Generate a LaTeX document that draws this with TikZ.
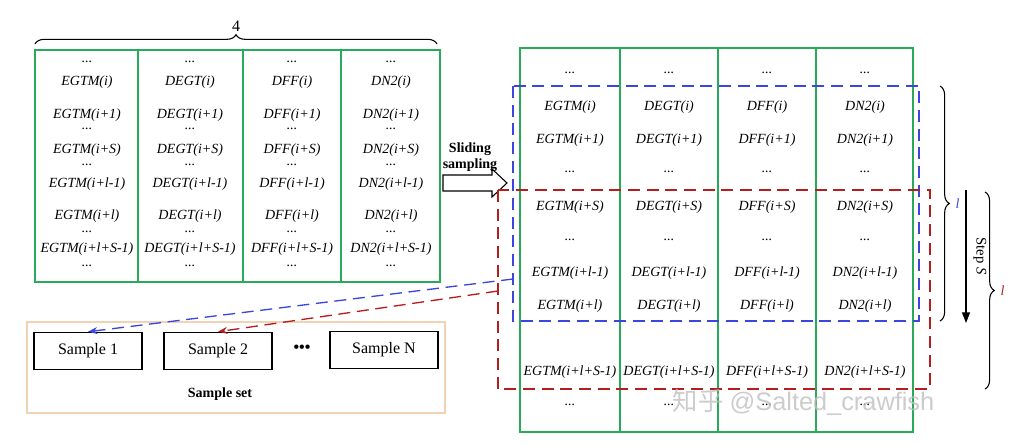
\documentclass[tikz,border=0pt]{standalone}
\usepackage{fontspec}
\setmainfont{Liberation Serif}
\newfontfamily\cjk{Noto Sans CJK SC}
\newfontfamily\wsans{Liberation Sans}
\usetikzlibrary{decorations.pathreplacing,arrows.meta}
\definecolor{tgreen}{RGB}{40,170,90}
\definecolor{tblue}{RGB}{60,70,220}
\definecolor{tred}{RGB}{180,30,30}
\definecolor{torange}{RGB}{240,210,180}
\begin{document}
\begin{tikzpicture}[x=0.75pt,y=-0.75pt,
  cell/.style={font=\itshape\fontsize{10.5}{12}\selectfont,inner sep=0pt},
  grid/.style={draw=tgreen,line width=1pt},
  samp/.style={draw,line width=0.9pt,minimum width=81pt,minimum height=28pt,font=\fontsize{12}{14}\selectfont},
  br/.style={decorate,decoration={brace,amplitude=7pt},line width=0.8pt}]
\useasboundingbox (0,0) rectangle (1033,445);
% left table
\draw[grid] (35,50) rectangle (440,282);
\foreach \x in {138,243,341} \draw[grid] (\x,50) -- (\x,282);
\draw[br] (35,44) -- (437,44) node[midway,above=6pt,font=\fontsize{12}{14}\selectfont] (four) {4};
\foreach \n/\cx in {EGTM/87,DEGT/190,DFF/292,DN2/391}{
  \foreach \y in {62,129,165,232,266} \node[cell] at (\cx,\y) {...};
  \node[cell] at (\cx,82) {\n(i)};
  \node[cell] at (\cx,115) {\n(i+1)};
  \node[cell] at (\cx,150) {\n(i+S)};
  \node[cell] at (\cx,184) {\n(i+l-1)};
  \node[cell] at (\cx,216) {\n(i+l)};
  \node[cell] at (\cx,249) {\n(i+l+S-1)};
}
% sliding arrow
\draw[line width=0.8pt,fill=white] (443,175) -- (492,175) -- (492,169) -- (507,183) -- (492,197) -- (492,191) -- (443,191) -- cycle;
\node[font=\bfseries\fontsize{10.5}{12}\selectfont,align=center] (sl) at (470,157) {Sliding\\sampling};
% right table
\draw[grid] (520,48) rectangle (913,432);
\foreach \x in {620,718,816} \draw[grid] (\x,48) -- (\x,432);
\foreach \n/\cx in {EGTM/570,DEGT/669,DFF/767,DN2/865}{
  \foreach \y in {73,172,240,405} \node[cell] at (\cx,\y) {...};
  \node[cell] at (\cx,107) {\n(i)};
  \node[cell] at (\cx,140) {\n(i+1)};
  \node[cell] at (\cx,207) {\n(i+S)};
  \node[cell] at (\cx,273) {\n(i+l-1)};
  \node[cell] at (\cx,306) {\n(i+l)};
  \node[cell] at (\cx,372) {\n(i+l+S-1)};
}
\draw[tblue,dash pattern=on 9pt off 5pt,line width=1pt] (513,86) rectangle (919,321);
\draw[tred,dash pattern=on 9pt off 5pt,line width=1pt] (498,190) rectangle (930,389);
\coordinate (bs) at (513,279);
\coordinate (rs) at (498,291);
% braces
\draw[br] (940,86) -- (940,321) node[midway,right=8pt,tblue,font=\itshape\fontsize{10.5}{12}\selectfont] (l1) {l};
\draw[br] (985,192) -- (985,389) node[midway,right=8pt,tred,font=\itshape\fontsize{10.5}{12}\selectfont] (l2) {l};
\coordinate (st) at (966,190); \coordinate (se) at (966,323);
\draw[-{Triangle[length=8pt,width=6pt]},line width=1pt] (st) -- (se);
\node[rotate=-90,font=\fontsize{11}{13}\selectfont] (ss) at (980,256) {Step \textit{S}};
% sample set
\draw[torange,line width=1pt] (27,322) rectangle (445,413);
\node[samp] (s1) at (88,351) {Sample 1};
\node[samp] (s2) at (218,351) {Sample 2};
\node[font=\bfseries\fontsize{12}{14}\selectfont] (dd) at (302,349) {•••};
\node[samp] (sn) at (384,350) {Sample N};
\node[font=\bfseries\fontsize{10.5}{12}\selectfont] (set) at (220,394) {Sample set};
\draw[tblue,dash pattern=on 9pt off 5pt,line width=1pt,-{Stealth[length=7pt]}] (bs) -- (s1.north);
\draw[tred,dash pattern=on 9pt off 5pt,line width=1pt,-{Stealth[length=7pt]}] (rs) -- (s2.north);
% watermark
\node[gray!50,opacity=0.8,anchor=west,font=\fontsize{19}{22}\selectfont] (wm) at (668,402) {{\cjk 知乎} {\wsans @Salted\_crawfish}};
\end{tikzpicture}
\end{document}
